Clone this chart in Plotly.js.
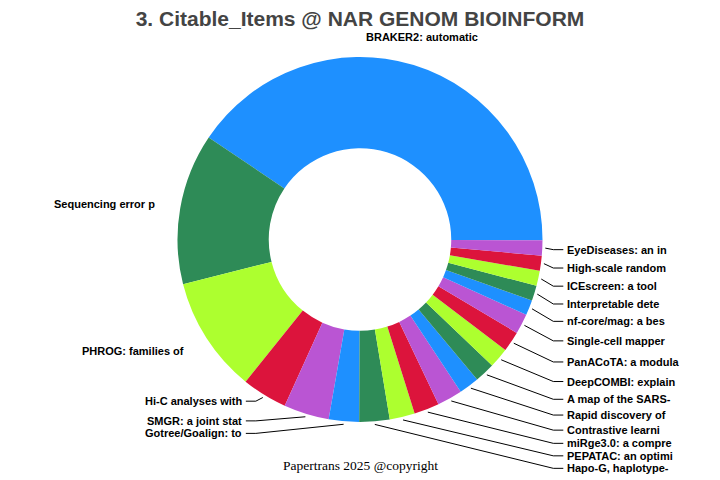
<!DOCTYPE html>
<html>
<head>
<meta charset="utf-8">
<script src="https://cdn.plot.ly/plotly-3.0.1.min.js"></script>
<style>html,body{margin:0;padding:0;background:#fff;}#chart{width:720px;height:480px;}</style>
</head>
<body>
<div id="chart"></div>
<script>
const labels = [
  "BRAKER2: automatic", "Sequencing error p", "PHROG: families of", "Hi-C analyses with",
  "SMGR: a joint stat", "Gotree/Goalign: to", "Hapo-G, haplotype-", "PEPATAC: an optimi",
  "miRge3.0: a compre", "Contrastive learni", "Rapid discovery of", "A map of the SARS-",
  "DeepCOMBI: explain", "PanACoTA: a modula", "Single-cell mapper", "nf-core/mag: a bes",
  "Interpretable dete", "ICEscreen: a tool", "High-scale random", "EyeDiseases: an in"
];
const values = [91, 30, 23, 9, 9, 6, 6, 5, 5, 5, 4, 4, 4, 4, 4, 3, 3, 3, 3, 3];
const palette = ["#1E90FF", "#2E8B57", "#ADFF2F", "#DC143C", "#BA55D3"];
const colors = labels.map((_, i) => palette[i % palette.length]);

// ---- layout geometry ----
const W = 720, H = 480;
const M = {l: 80, r: 80, t: 57, b: 58};
const pw = W - M.l - M.r, ph = H - M.t - M.b;
const cx = M.l + pw / 2, cy = M.t + ph / 2, R = Math.min(pw, ph) / 2;
const rotation = -56;
const labelFont = {family: "Arial, 'Liberation Sans', sans-serif", size: 11, color: "#000", weight: "bold"};

const toPX = x => (x - M.l) / pw;
const toPY = y => (H - M.b - y) / ph;

// mid angles (deg, clockwise from 12 o'clock), following Plotly's counterclockwise layout
const total = values.reduce((a, b) => a + b, 0);
const degs = values.map(v => v / total * 360);
const mids = [];
mids.push(rotation + degs[0] / 2);
let edge = rotation;
for (let i = 1; i < values.length; i++) {
  mids.push(edge - degs[i] / 2);
  edge -= degs[i];
}
const info = mids.map((m, i) => {
  const a = ((m % 360) + 360) % 360;
  const rad = a * Math.PI / 180;
  const s = Math.sin(rad), c = Math.cos(rad);
  return {i, a, s, c, right: s >= 0, small: values[i] / total < 0.05};
});

const annotations = [];
const shapes = [];

// big slices: label placed along the mid angle, no leader line
info.filter(d => !d.small).forEach(d => {
  const central = Math.abs(d.s) < 0.5;
  const rb = (central ? 1.16 : 1.13) * R;
  const x = cx + rb * d.s, y = cy - rb * d.c;
  const anchor = central ? "center" : (d.right ? "left" : "right");
  annotations.push({
    text: labels[d.i], xref: "paper", yref: "paper", x: toPX(x), y: toPY(y),
    xanchor: anchor, yanchor: "middle", showarrow: false, font: labelFont
  });
});

// small slices: labels in a column with leader lines
[true, false].forEach(right => {
  const group = info.filter(d => d.small && d.right === right);
  if (!group.length) return;
  const k = right ? 1.2 : 1.04;
  group.forEach(d => {
    d.px = cx + (R + 3) * d.s;
    d.py = cy - (R + 3) * d.c;
    d.ly = cy - k * R * d.c;
  });
  group.sort((a, b) => a.ly - b.ly);
  for (let j = 1; j < group.length; j++) {
    if (group[j].ly < group[j - 1].ly + 12.5) group[j].ly = group[j - 1].ly + 12.5;
  }
  const ext = right ? Math.max(...group.map(d => d.px)) + 8 : Math.min(...group.map(d => d.px)) - 7;
  const dir = right ? 1 : -1;
  group.forEach(d => {
    const ex = ext, hx = ext + dir * 10;
    shapes.push({type: "line", xref: "paper", yref: "paper",
      x0: toPX(d.px), y0: toPY(d.py), x1: toPX(ex), y1: toPY(d.ly),
      line: {color: "#000", width: 1}});
    shapes.push({type: "line", xref: "paper", yref: "paper",
      x0: toPX(ex), y0: toPY(d.ly), x1: toPX(hx), y1: toPY(d.ly),
      line: {color: "#000", width: 1}});
    annotations.push({
      text: labels[d.i], xref: "paper", yref: "paper", x: toPX(hx + dir * 2), y: toPY(d.ly),
      xanchor: right ? "left" : "right", yanchor: "middle", showarrow: false, font: labelFont
    });
  });
});

annotations.push({
  text: "Papertrans 2025 @copyright",
  xref: "paper", yref: "paper", x: 0.5, y: -0.12,
  xanchor: "center", yanchor: "middle", showarrow: false,
  font: {family: "'Times New Roman', 'Liberation Serif', serif", size: 13.5, color: "#000"}
});

const trace = {
  type: "pie",
  labels: labels,
  values: values,
  hole: 0.5,
  sort: false,
  direction: "counterclockwise",
  rotation: rotation,
  textinfo: "none",
  hoverinfo: "none",
  marker: {colors: colors},
  showlegend: false
};

const layout = {
  width: W,
  height: H,
  margin: M,
  paper_bgcolor: "#fff",
  title: {
    text: "3. Citable_Items @ NAR GENOM BIOINFORM",
    font: {family: "Arial, 'Liberation Sans', sans-serif", size: 21, color: "#444", weight: "bold"},
    x: 0.5, xanchor: "center",
    y: 0.962, yref: "container", yanchor: "middle"
  },
  annotations: annotations,
  shapes: shapes
};

Plotly.newPlot("chart", [trace], layout, {displayModeBar: false, staticPlot: true});
</script>
</body>
</html>
